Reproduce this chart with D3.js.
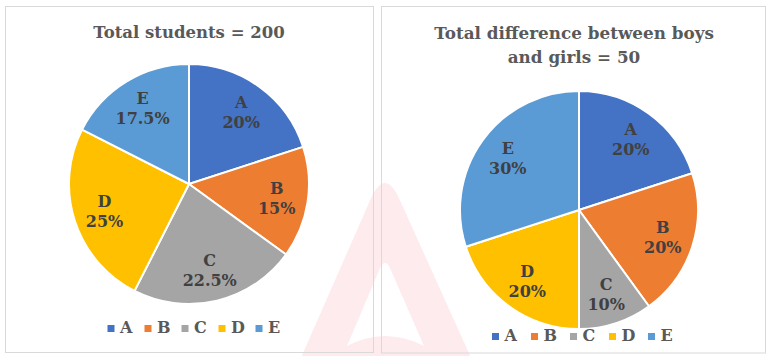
<!DOCTYPE html>
<html>
<head>
<meta charset="utf-8">
<script src="https://cdn.jsdelivr.net/npm/d3@7/dist/d3.min.js"></script>
<style>
  html, body { margin: 0; padding: 0; background: #ffffff; }
  svg { display: block; }
  text { font-family: "DejaVu Serif", "Liberation Serif", serif; font-weight: bold; }
</style>
</head>
<body>
<script>
// ---- data ----
const categories = ["A", "B", "C", "D", "E"];
const totalStudentsPct = [20, 15, 22.5, 25, 17.5];
const boysGirlsDiffPct = [20, 20, 10, 20, 30];
const colors = ["#4472C4", "#ED7D31", "#A5A5A5", "#FFC000", "#5B9BD5"];
const leftTitle = ["Total students = 200"];
const rightTitle = ["Total difference between boys", "and girls = 50"];

const W = 768, H = 356;
const svg = d3.select("body").append("svg").attr("width", W).attr("height", H);

// watermark (background)
svg.append("path")
  .attr("d", "M300,360 L372,196 Q385,170 398,196 L472,360 Z M347,346 L380,268 Q385,258 390,268 L424,346 Q385,326 347,346 Z")
  .attr("fill", "#fdebee")
  .attr("fill-rule", "evenodd");

// panel borders
svg.append("rect").attr("x", 5.5).attr("y", 6.5).attr("width", 368).attr("height", 346)
  .attr("fill", "none").attr("stroke", "#d9d9d9").attr("stroke-width", 1);
svg.append("rect").attr("x", 381.5).attr("y", 6.5).attr("width", 384).attr("height", 346.5)
  .attr("fill", "none").attr("stroke", "#d9d9d9").attr("stroke-width", 1);

function drawPie(cfg) {
  const g = svg.append("g");
  const data = categories.map((c, i) => ({ cat: c, value: cfg.values[i], color: colors[i] }));
  const pie = d3.pie().sort(null).value(d => d.value);
  const arcs = pie(data);
  const arc = d3.arc().innerRadius(0).outerRadius(cfg.r);
  const labelArc = d3.arc().innerRadius(cfg.r * 0.74).outerRadius(cfg.r * 0.74);

  const pg = g.append("g").attr("transform", `translate(${cfg.cx},${cfg.cy})`);
  pg.selectAll("path.slice").data(arcs).enter().append("path")
    .attr("class", "slice")
    .attr("d", arc)
    .attr("fill", d => d.data.color)
    .attr("stroke", "#ffffff")
    .attr("stroke-width", 2)
    .attr("stroke-linejoin", "round");

  const lab = pg.selectAll("g.lab").data(arcs).enter().append("g")
    .attr("class", "lab")
    .attr("transform", d => { const c = labelArc.centroid(d); return `translate(${c[0]},${c[1]})`; });
  lab.append("text").attr("text-anchor", "middle").attr("y", -4)
    .attr("font-size", 16).attr("fill", "#404040").text(d => d.data.cat);
  lab.append("text").attr("text-anchor", "middle").attr("y", 16)
    .attr("font-size", 16).attr("fill", "#404040").text(d => d.data.value + "%");

  // title
  cfg.title.forEach((t, i) => {
    g.append("text").attr("x", cfg.titleX).attr("y", cfg.titleY + i * 24)
      .attr("text-anchor", "middle").attr("font-size", cfg.titleSize).attr("fill", "#595959").text(t);
  });

  // legend
  const leg = g.selectAll("g.leg").data(data).enter().append("g")
    .attr("class", "leg")
    .attr("transform", (d, i) => `translate(${cfg.legX + i * cfg.legStep},${cfg.legY})`);
  leg.append("rect").attr("x", 0).attr("y", -7).attr("width", 7).attr("height", 7).attr("fill", d => d.color);
  leg.append("text").attr("x", 12.5).attr("y", 1).attr("font-size", 16).attr("fill", "#595959").text(d => d.cat);
}

drawPie({ values: totalStudentsPct, cx: 189, cy: 184, r: 120, title: leftTitle, titleX: 189, titleY: 38, titleSize: 16.5,
  legX: 107.5, legY: 332, legStep: 37 });
drawPie({ values: boysGirlsDiffPct, cx: 579, cy: 210, r: 119, title: rightTitle, titleX: 574, titleY: 39, titleSize: 16.8,
  legX: 492, legY: 340, legStep: 39 });
</script>
</body>
</html>
